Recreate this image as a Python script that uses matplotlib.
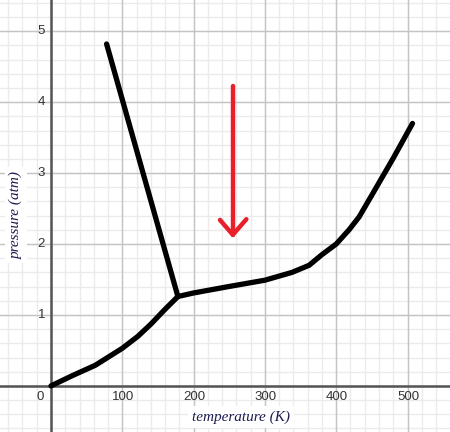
import matplotlib.pyplot as plt
import numpy as np

# phase diagram lines (temperature K, pressure atm)
fusion_t = [78, 178]
fusion_p = [4.82, 1.26]

sublim_t = [0, 29, 62, 100, 122, 141, 159, 178]
sublim_p = [0, 0.14, 0.29, 0.53, 0.70, 0.88, 1.07, 1.26]

vapor_t = [178, 200, 249, 300, 338, 362, 380, 400, 418, 432, 450, 480, 507]
vapor_p = [1.26, 1.31, 1.40, 1.49, 1.60, 1.70, 1.85, 2.00, 2.20, 2.38, 2.69, 3.21, 3.70]

# red arrow
arrow_t = [255, 255]
arrow_p = [4.23, 2.13]
head_t = [237, 255, 274]
head_p = [2.34, 2.13, 2.35]

x_ticks = [0, 100, 200, 300, 400, 500]
y_ticks = [1, 2, 3, 4, 5]

fig = plt.figure(figsize=(4.5, 4.32), dpi=100)
ax = fig.add_axes([0, 0, 1, 1])
ax.set_xlim(-71.5, 559.6)
ax.set_ylim(-0.65, 5.44)

# grid
for x in np.arange(-60, 560, 20):
    ax.axvline(x, color='#ebebeb', lw=1, zorder=0)
for y in np.arange(-0.6, 5.5, 0.2):
    ax.axhline(y, color='#ebebeb', lw=1, zorder=0)
for x in range(-100, 600, 100):
    ax.axvline(x, color='#c4c4c4', lw=1, zorder=1)
for y in range(0, 6):
    ax.axhline(y, color='#c4c4c4', lw=1, zorder=1)
ax.axvline(0, color='#555555', lw=1.8, zorder=2)
ax.axhline(0, color='#555555', lw=1.8, zorder=2)

ax.set_xticks([])
ax.set_yticks([])
for s in ax.spines.values():
    s.set_visible(False)

tick_kw = dict(textcoords='offset pixels', fontsize=9.5, color='#333333',
               family='Liberation Sans', zorder=3)
ax.annotate('0', (0, 0), xytext=(-11, -11), ha='center', va='center', **tick_kw)
for t in x_ticks[1:]:
    ax.annotate(str(t), (t, 0), xytext=(1, -11), ha='center', va='center', **tick_kw)
for t in y_ticks:
    ax.annotate(str(t), (0, t), xytext=(-6, 0), ha='right', va='center', **tick_kw)

# curves
line_kw = dict(color='black', lw=3.8, solid_capstyle='round', solid_joinstyle='round', zorder=5)
ax.plot(fusion_t, fusion_p, **line_kw)
ax.plot(sublim_t, sublim_p, **line_kw)
ax.plot(vapor_t, vapor_p, **line_kw)

red_kw = dict(color='#e8202a', lw=3.2, solid_capstyle='round', solid_joinstyle='round', zorder=5)
ax.plot(arrow_t, arrow_p, **red_kw)
ax.plot(head_t, head_p, **red_kw)

lab_kw = dict(family='Liberation Serif', style='italic', fontsize=11, color='#1c1c50',
              bbox=dict(facecolor='white', edgecolor='none', pad=3), zorder=6)
ax.text(0.536, 0.035, 'temperature (K)', transform=ax.transAxes, ha='center', va='center', **lab_kw)
ax.text(0.036, 0.502, 'pressure (atm)', transform=ax.transAxes, ha='center', va='center',
        rotation=90, **lab_kw)

fig.savefig('out.png', dpi=100)
